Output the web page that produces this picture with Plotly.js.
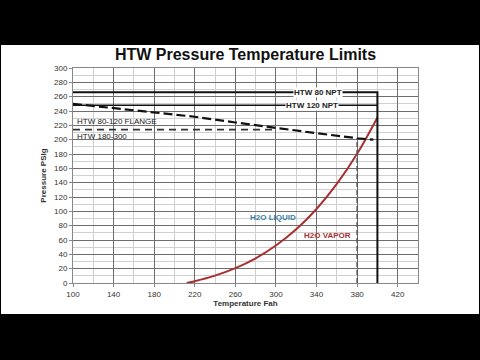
<!DOCTYPE html>
<html><head><meta charset="utf-8">
<script src="https://cdn.plot.ly/plotly-3.0.1.min.js"></script>
<style>
html,body{margin:0;padding:0;background:#000;width:480px;height:360px;overflow:hidden;}
#chart{position:absolute;left:1px;top:45px;width:478px;height:269px;}
</style></head><body>
<div id="chart"></div>
<script>
// Data
var vaporTemp = [212, 220, 240, 260, 280, 300, 320, 340, 360, 380, 400];
var vaporPsig = [0, 2.5, 10.3, 20.7, 34.5, 52.3, 74.9, 103.3, 138.3, 180.3, 231];
var npt80Temp = [100, 400, 400];
var npt80Psig = [266, 266, 0];
var npt120Temp = [100, 400];
var npt120Psig = [248, 248];
var flangeTemp = [100, 140, 180, 220, 260, 300, 340, 380, 396];
var flangePsig = [250, 244, 238, 232, 224, 216, 209, 202, 200];
var htw180Temp = [100, 300];
var htw180Psig = [214, 214];
var limit380Temp = [380, 380];
var limit380Psig = [0, 202];
var xTicks = [100, 140, 180, 220, 260, 300, 340, 380, 420];
var yTicks = [0,20,40,60,80,100,120,140,160,180,200,220,240,260,280,300];

var traces = [
  {x: vaporTemp, y: vaporPsig, mode:'lines', line:{color:'#a83030', width:2, shape:'spline'}, hoverinfo:'skip'},
  {x: limit380Temp, y: limit380Psig, mode:'lines', line:{color:'#555', width:1.5, dash:'5px,3px'}},
  {x: htw180Temp, y: htw180Psig, mode:'lines', line:{color:'#333', width:1.8, dash:'7px,5px'}},
  {x: flangeTemp, y: flangePsig, mode:'lines', line:{color:'#111', width:2.2, dash:'9px,4px'}},
  {x: npt120Temp, y: npt120Psig, mode:'lines', line:{color:'#111', width:1.6}},
  {x: npt80Temp, y: npt80Psig, mode:'lines', line:{color:'#111', width:2}}
];

var lblFont = {family:'Liberation Sans, Arial, sans-serif', size:8, color:'#222'};
var layout = {
  width:478, height:269,
  margin:{l:72, r:61, t:23, b:31},
  paper_bgcolor:'#fff', plot_bgcolor:'#fff',
  showlegend:false,
  title:{text:'<b>HTW Pressure Temperature Limits</b>', x:0.5, xref:'paper', xanchor:'center', y:0.965, yanchor:'middle',
         font:{family:'Liberation Sans, Arial, sans-serif', size:16, color:'#111'}},
  xaxis:{range:[100,440], tickvals:xTicks, ticktext:xTicks.map(String),
         showgrid:true, gridcolor:'#6e6e6e', gridwidth:1,
         minor:{dtick:20, showgrid:true, gridcolor:'#d0d0d0', gridwidth:1},
         showline:true, linecolor:'#888', mirror:true, ticks:'outside', ticklen:3, tickcolor:'#888',
         zeroline:false, tickfont:{family:'Liberation Sans, Arial, sans-serif', size:8, color:'#333'},
         title:{text:'<b>Temperature Fah</b>', standoff:2, font:{family:'Liberation Sans, Arial, sans-serif', size:8, color:'#333'}}},
  yaxis:{range:[0,300], tickvals:yTicks, ticktext:yTicks.map(String),
         showgrid:true, gridcolor:'#6e6e6e', gridwidth:1,
         minor:{dtick:10, showgrid:true, gridcolor:'#d0d0d0', gridwidth:1},
         showline:true, linecolor:'#888', mirror:true, ticks:'outside', ticklen:3, tickcolor:'#888',
         zeroline:false, tickfont:{family:'Liberation Sans, Arial, sans-serif', size:8, color:'#333'},
         title:{text:'<b>Pressure PSIg</b>', standoff:6, font:{family:'Liberation Sans, Arial, sans-serif', size:8, color:'#333'}}},
  annotations:[
    {x:341, y:266, text:'<b>HTW 80 NPT</b>', showarrow:false, bgcolor:'#fff', font:lblFont, borderpad:0},
    {x:336, y:248, text:'<b>HTW 120 NPT</b>', showarrow:false, bgcolor:'#fff', font:lblFont, borderpad:0},
    {x:102, y:226, text:'HTW 80-120 FLANGE', xanchor:'left', showarrow:false, font:lblFont},
    {x:102, y:205, text:'HTW 180-300', xanchor:'left', showarrow:false, font:lblFont},
    {x:297, y:91, text:'<b>H2O LIQUID</b>', showarrow:false, font:{family:'Liberation Sans, Arial, sans-serif', size:8, color:'#3a7fa8'}},
    {x:351, y:66, text:'<b>H2O VAPOR</b>', showarrow:false, font:{family:'Liberation Sans, Arial, sans-serif', size:8, color:'#a83232'}}
  ]
};
Plotly.newPlot('chart', traces, layout, {displayModeBar:false, staticPlot:true});
</script></body></html>
